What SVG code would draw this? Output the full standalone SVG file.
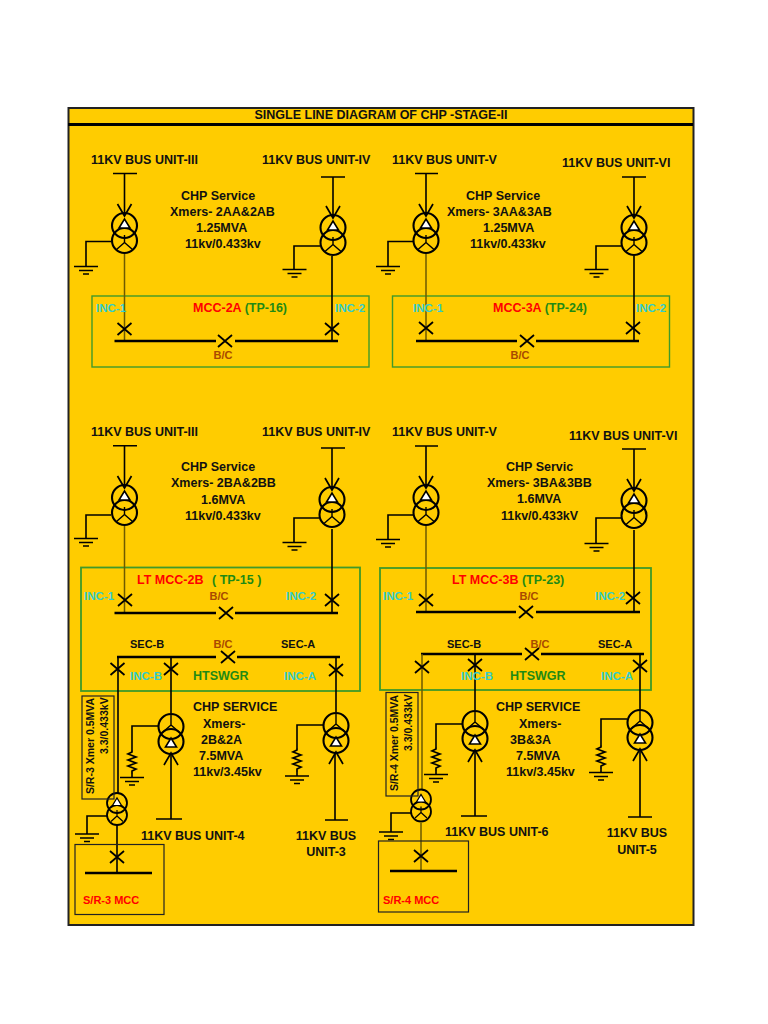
<svg xmlns="http://www.w3.org/2000/svg" width="768" height="1024" viewBox="0 0 768 1024">
<style>
text{font-family:"Liberation Sans",Arial,sans-serif;font-weight:700;font-size:12.5px;fill:#111}
.m{text-anchor:middle}
.s{font-size:11px}
.v{font-size:10.500px}
.c{fill:#33cccc;font-size:11.5px}
.r{fill:#ff0000}
.g{fill:#1f8a14}
.b{fill:#a84a00;font-size:11px}
.l{stroke:#000;stroke-width:1.6;fill:none}
.t{stroke:#6e5a00;stroke-width:1.5;fill:none}
.h{stroke:#000;stroke-width:2.4;fill:none}
.bx{stroke:#3f9a2a;stroke-width:1.4;fill:none}
.bx2{stroke:#3f9a2a;stroke-width:1.8;fill:none}
.k{stroke:#222;stroke-width:1.2;fill:none}
</style>
<defs>
<g id="x"><path d="M-7-6 7 6M-7 6 7-6" stroke="#000" stroke-width="1.8" fill="none"/></g>
<g id="gnd"><path d="M-12 0H12M-7 4H7M-3 7.500H3" stroke="#000" stroke-width="1.5" fill="none"/></g>
<g id="res"><path d="M0 0V2L-4 4 4 7-4 10 4 13-4 16 4 19 0 21V24" stroke="#000" stroke-width="1.7" fill="none"/></g>
<g id="xd"><path d="M-7-22 0-10 7-22" stroke="#000" stroke-width="1.7" fill="none"/><circle cy="-.5" r="12.500" fill="none" stroke="#000" stroke-width="2.1"/><circle cy="14.500" r="12.500" fill="none" stroke="#000" stroke-width="2.1"/><path d="M-5.500 2H5.500L0-7Z" fill="#fff" stroke="#000" stroke-width="1.6"/><path d="M0 16.500V9M0 16.500-8 23.500M0 16.500 8 23.500" stroke="#000" stroke-width="1.4" fill="none"/></g>
<g id="xu"><circle cy=".5" r="12.500" fill="none" stroke="#000" stroke-width="2.1"/><circle cy="15.500" r="12.500" fill="none" stroke="#000" stroke-width="2.1"/><path d="M0-1V-11M0-1-8 6M0-1 8 6" stroke="#000" stroke-width="1.4" fill="none"/><path d="M-5.500 21H5.500L0 12Z" fill="#fff" stroke="#000" stroke-width="1.6"/><path d="M-7 39 0 27 7 39" stroke="#000" stroke-width="1.7" fill="none"/></g>
<g id="xs"><circle r="10" fill="none" stroke="#000" stroke-width="1.8"/><circle cy="12" r="10" fill="none" stroke="#000" stroke-width="1.8"/><path d="M-4.500 2.500H4.500L0-5Z" fill="#fff" stroke="#000" stroke-width="1.2"/><path d="M0 13V7M0 13-6 18.500M0 13 6 18.500" stroke="#000" stroke-width="1.2" fill="none"/></g>
</defs>
<rect id="frame" x="68.500" y="108" width="625" height="817" fill="#ffcc00" stroke="#222" stroke-width="2"/>
<path d="M68 124.500H693" stroke="#000" stroke-width="2.8"/>
<text class="m" x="381" y="118.500">SINGLE LINE DIAGRAM OF CHP -STAGE-II</text>

<g id="boxes">
<rect class="bx" x="92" y="296" width="277" height="71"/>
<rect class="bx" x="392.500" y="296" width="277" height="71"/>
<rect class="bx2" x="81" y="567.500" width="279" height="123.500"/>
<rect class="bx2" x="380" y="568" width="271" height="122"/>
</g>

<g id="connectors">
<path class="l" d="M113 173.500H137M124.500 173.500V214M321 177H345M333 177V216M415 173.500H438M426 173.500V214M622 177H646M634 177V216"/>
<path class="t" d="M124.500 254V341M426 254V341"/>
<path class="l" d="M332 256V341M634 256V341"/>
<path class="l" d="M111 241.500H86V266M320 246H294V269M413 241.500H388V266M621 246H596V269"/>
<path class="h" d="M114.500 341H216M235 341H338M416 341H517M536 341H639"/>
<path class="l" d="M113 445.700H137M124.500 445.700V486M321 448H345M332 448V488M415 446H438M426 446V486M622 449H646M634 449V489"/>
<path class="t" d="M124.500 526V613M426 526V612"/>
<path class="l" d="M332 529V613M634 530V612"/>
<path class="l" d="M111 515H86V538M319 518H294V542M413 515H388V539M621 518H596V543"/>
<path class="h" d="M114.500 613H216M235 613H338M416 612H516M536 612H640"/>
<path class="h" d="M117 657H216M237 657H340M421 654H522M541 654H644"/>
<path class="l" d="M171 657V713M336 657V712M475 654V710M640 654V709"/>
<path class="l" d="M118 657V793"/>
<path class="t" d="M422 654V789M421 823V871"/>
<path class="l" d="M171 753V819M156 819H182M335 752V820M325 820H348M475 750V816M461 816H487M640 749V817M628 817H652"/>
<path class="l" d="M158 726H132V750M132 774V777M323 725H297V748M297 772V776M462 724H436V747M436 771V774M627 719H601V745M601 769V772"/>
<path class="l" d="M107 816H87V834M117 825V873M411 813H391V832"/>
<path class="h" d="M85 873H152M390 871H457"/>
</g>

<g id="t-2aa"><use href="#xd" x="124.500" y="226"/><use href="#gnd" x="86" y="266.500"/></g>
<g id="t-2ab"><use href="#xd" x="333" y="228"/><use href="#gnd" x="294.500" y="269.500"/></g>
<g id="t-3aa"><use href="#xd" x="426" y="226"/><use href="#gnd" x="388" y="266.500"/></g>
<g id="t-3ab"><use href="#xd" x="634" y="228"/><use href="#gnd" x="596.500" y="269.500"/></g>
<g id="t-2ba"><use href="#xd" x="124.500" y="498"/><use href="#gnd" x="86" y="538.500"/></g>
<g id="t-2bb"><use href="#xd" x="332" y="500"/><use href="#gnd" x="294.500" y="542.500"/></g>
<g id="t-3ba"><use href="#xd" x="426" y="498"/><use href="#gnd" x="388" y="539.500"/></g>
<g id="t-3bb"><use href="#xd" x="634" y="501"/><use href="#gnd" x="596.500" y="543.500"/></g>
<g id="t-2b"><use href="#xu" x="171" y="726"/><use href="#res" x="132" y="750"/><use href="#gnd" x="132" y="777.500"/></g>
<g id="t-2a"><use href="#xu" x="336" y="725"/><use href="#res" x="297" y="748"/><use href="#gnd" x="297" y="776"/></g>
<g id="t-3b"><use href="#xu" x="475" y="723"/><use href="#res" x="436" y="747"/><use href="#gnd" x="436" y="774.500"/></g>
<g id="t-3a"><use href="#xu" x="640" y="722"/><use href="#res" x="601" y="745"/><use href="#gnd" x="601" y="772.500"/></g>
<g id="t-sr3"><use href="#xs" x="117" y="803"/><use href="#gnd" x="87" y="834"/></g>
<g id="t-sr4"><use href="#xs" x="421" y="799.500"/><use href="#gnd" x="391" y="832"/></g>

<g id="breakers">
<use href="#x" x="124.500" y="329"/><use href="#x" x="225" y="341"/><use href="#x" x="332" y="329"/>
<use href="#x" x="426" y="328"/><use href="#x" x="527" y="341"/><use href="#x" x="633" y="328"/>
<use href="#x" x="125" y="600"/><use href="#x" x="226" y="613"/><use href="#x" x="332" y="600"/>
<use href="#x" x="426" y="600"/><use href="#x" x="526" y="612"/><use href="#x" x="633" y="598"/>
<use href="#x" x="117.500" y="669"/><use href="#x" x="228" y="657"/><use href="#x" x="171" y="669"/><use href="#x" x="336" y="670"/>
<use href="#x" x="422" y="667"/><use href="#x" x="532" y="654"/><use href="#x" x="475" y="665"/><use href="#x" x="640" y="666"/>
<use href="#x" x="117" y="857"/><use href="#x" x="421" y="856"/>
</g>

<g id="sr-boxes">
<rect class="k" x="82" y="696" width="32" height="103"/>
<rect class="k" x="386" y="692.500" width="32" height="103.500"/>
<rect class="k" x="75" y="844.500" width="89" height="70"/>
<rect class="k" x="378.500" y="841" width="90" height="71"/>
</g>

<g id="labels">
<text x="91" y="164">11KV BUS UNIT-III</text><text x="262" y="164">11KV BUS UNIT-IV</text><text x="392" y="164">11KV BUS UNIT-V</text><text x="562" y="167">11KV BUS UNIT-VI</text>
<text x="181" y="200">CHP Service</text><text x="170" y="216">Xmers- 2AA&amp;2AB</text><text x="196" y="232">1.25MVA</text><text x="185" y="248">11kv/0.433kv</text>
<text x="466" y="200">CHP Service</text><text x="447" y="216">Xmers- 3AA&amp;3AB</text><text x="483" y="232">1.25MVA</text><text x="470" y="248">11kv/0.433kv</text>
<text class="c" x="96" y="312">INC-1</text><text class="c" x="335" y="312">INC-2</text><text class="c" x="413" y="312">INC-1</text><text class="c" x="636" y="312">INC-2</text>
<text x="193" y="312"><tspan class="r">MCC-2A </tspan><tspan class="g">(TP-16)</tspan></text>
<text x="493" y="312"><tspan class="r">MCC-3A </tspan><tspan class="g">(TP-24)</tspan></text>
<text class="b m" x="223" y="359">B/C</text><text class="b m" x="520" y="359">B/C</text>

<text x="91" y="436">11KV BUS UNIT-III</text><text x="262" y="436">11KV BUS UNIT-IV</text><text x="392" y="436">11KV BUS UNIT-V</text><text x="569" y="440">11KV BUS UNIT-VI</text>
<text x="181" y="471">CHP Service</text><text x="171" y="487">Xmers- 2BA&amp;2BB</text><text x="201" y="504">1.6MVA</text><text x="185" y="520">11kv/0.433kv</text>
<text x="506" y="471">CHP Servic</text><text x="487" y="487">Xmers- 3BA&amp;3BB</text><text x="517" y="503">1.6MVA</text><text x="501" y="520">11kv/0.433kV</text>
<text class="r" x="137" y="584">LT MCC-2B</text><text class="g" x="212" y="584">( TP-15 )</text>
<text x="452" y="584"><tspan class="r">LT MCC-3B </tspan><tspan class="g">(TP-23)</tspan></text>
<text class="c" x="84" y="600">INC-1</text><text class="c" x="286" y="600">INC-2</text><text class="c" x="383" y="600">INC-1</text><text class="c" x="595" y="600">INC-2</text>
<text class="b m" x="219" y="600">B/C</text><text class="b m" x="529" y="600">B/C</text>
<text class="s" x="130" y="648">SEC-B</text><text class="s" x="281" y="648">SEC-A</text><text class="s" x="447" y="648">SEC-B</text><text class="s" x="598" y="648">SEC-A</text>
<text class="b m" x="223" y="648">B/C</text><text class="b m" x="540" y="648">B/C</text>
<text class="c" x="130" y="680">INC-B</text><text class="c" x="284" y="680">INC-A</text><text class="c" x="461" y="680">INC-B</text><text class="c" x="601" y="680">INC-A</text>
<text class="g" x="193" y="680">HTSWGR</text><text class="g" x="510" y="680">HTSWGR</text>
<text x="193" y="711">CHP SERVICE</text><text x="203" y="728">Xmers-</text><text x="201" y="744">2B&amp;2A</text><text x="199" y="760">7.5MVA</text><text x="193" y="776">11kv/3.45kv</text>
<text x="496" y="711">CHP SERVICE</text><text x="519" y="728">Xmers-</text><text x="510" y="744">3B&amp;3A</text><text x="516" y="760">7.5MVA</text><text x="506" y="776">11kv/3.45kv</text>
<text x="141" y="840">11KV BUS UNIT-4</text><text x="445" y="836">11KV BUS UNIT-6</text>
<text class="m" x="326" y="840">11KV BUS</text><text class="m" x="326" y="856">UNIT-3</text>
<text class="m" x="637" y="837">11KV BUS</text><text class="m" x="637" y="854">UNIT-5</text>
<text class="v m" transform="translate(94 746) rotate(-90)">S/R-3 Xmer 0.5MVA</text><text class="v" transform="translate(108 754) rotate(-90)">3.3/0.433kV</text>
<text class="v m" transform="translate(398 743) rotate(-90)">S/R-4 Xmer 0.5MVA</text><text class="v" transform="translate(412 751) rotate(-90)">3.3/0.433kV</text>
<text class="r s" x="83" y="904">S/R-3 MCC</text><text class="r s" x="383" y="904">S/R-4 MCC</text>
</g>
</svg>
